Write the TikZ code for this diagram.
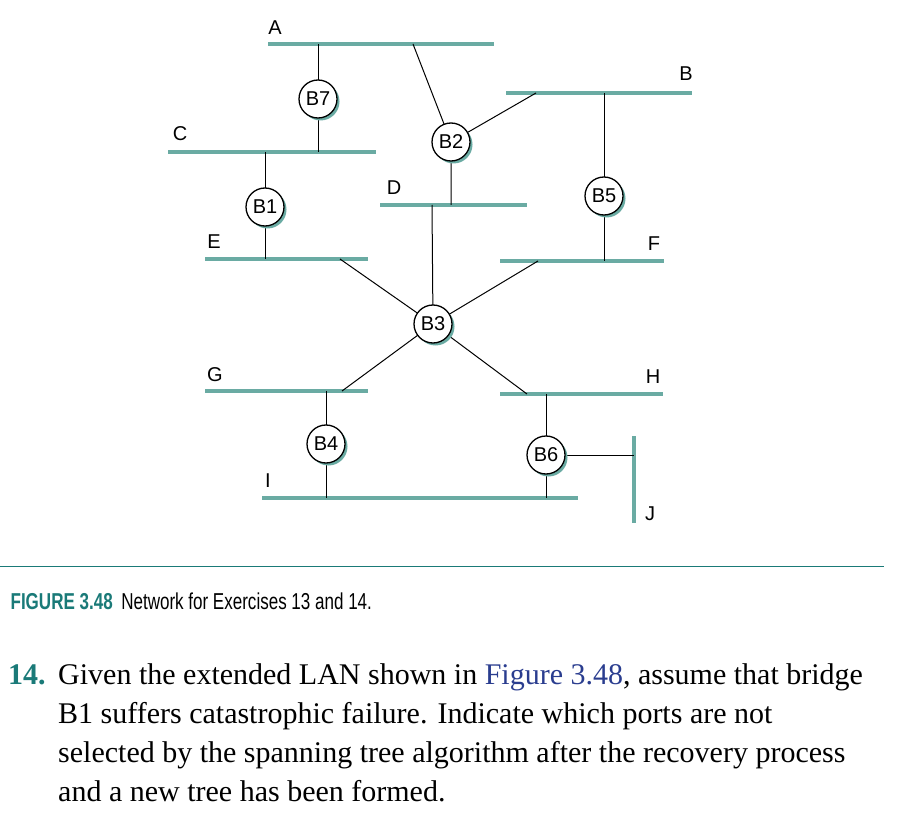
\documentclass[tikz,border=0pt]{standalone}
\usepackage{fontspec}
\setmainfont{Liberation Serif}
\newfontfamily\diagfont{Liberation Sans}
\usetikzlibrary{shadows}
\definecolor{lanteal}{HTML}{6AABA3}
\definecolor{headteal}{HTML}{1A7A78}
\definecolor{refblue}{HTML}{2A3D8F}
\tikzset{
  lan/.style={line width=4pt, lanteal},
  bridge/.style={circle, draw, line width=1.3pt, fill=white, minimum size=38pt, inner sep=0pt,
    font=\diagfont\fontsize{20}{20}\selectfont,
    drop shadow={fill=lanteal, shadow xshift=2.5pt, shadow yshift=-2.5pt, opacity=1}},
  lbl/.style={font=\diagfont\fontsize{20}{20}\selectfont},
  link/.style={line width=1pt, black}
}
\begin{document}
\begin{tikzpicture}[x=1pt, y=-1pt]
  \useasboundingbox (0,0) rectangle (910,818);

  % LAN segments
  \draw[lan] (268,44)--(494,44);   % A
  \draw[lan] (506,93)--(692,93);   % B
  \draw[lan] (168,152)--(376,152); % C
  \draw[lan] (380,205)--(527,205); % D
  \draw[lan] (205,259)--(368,259); % E
  \draw[lan] (500,261)--(664,261); % F
  \draw[lan] (205,391)--(368,391); % G
  \draw[lan] (500,394)--(663,394); % H
  \draw[lan] (262,498)--(578,498); % I
  \draw[lan] (634,436)--(634,523); % J

  % Attachment points on the LANs
  \coordinate (a7) at (318,44);  \coordinate (a2) at (413,44);
  \coordinate (b2) at (536,93);  \coordinate (b5) at (604,93);
  \coordinate (c7) at (318,152); \coordinate (c1) at (265,152);
  \coordinate (d2) at (451,205); \coordinate (d3) at (432,205);
  \coordinate (e1) at (265,259); \coordinate (e3) at (340,259);
  \coordinate (f5) at (604,261); \coordinate (f3) at (538,261);
  \coordinate (g3) at (342,391); \coordinate (g4) at (326,391);
  \coordinate (h3) at (527,394); \coordinate (h6) at (546,394);
  \coordinate (i4) at (326,498); \coordinate (i6) at (546,498);
  \coordinate (j6) at (634,455);

  % Links
  \draw[link] (318,99)--(a7) (318,99)--(c7);
  \draw[link] (451,142)--(a2) (451,142)--(b2) (451,142)--(d2);
  \draw[link] (265,207)--(c1) (265,207)--(e1);
  \draw[link] (604,196)--(b5) (604,196)--(f5);
  \draw[link] (433,324)--(d3) (433,324)--(e3) (433,324)--(f3) (433,324)--(g3) (433,324)--(h3);
  \draw[link] (326,444)--(g4) (326,444)--(i4);
  \draw[link] (546,455)--(h6) (546,455)--(i6) (546,455)--(j6);

  % Bridges
  \node[bridge] (B7) at (318,99) {B7};
  \node[bridge] (B2) at (451,142) {B2};
  \node[bridge] (B1) at (265,207) {B1};
  \node[bridge] (B5) at (604,196) {B5};
  \node[bridge] (B3) at (433,324) {B3};
  \node[bridge] (B4) at (326,444) {B4};
  \node[bridge] (B6) at (546,455) {B6};

  % LAN labels
  \node[lbl] (lA) at (275,28) {A};
  \node[lbl] (lB) at (686,74) {B};
  \node[lbl] (lC) at (180,134) {C};
  \node[lbl] (lD) at (394,188) {D};
  \node[lbl] (lE) at (214,242) {E};
  \node[lbl] (lF) at (654,244) {F};
  \node[lbl] (lG) at (215,375) {G};
  \node[lbl] (lH) at (653,377) {H};
  \node[lbl] (lI) at (268,481) {I};
  \node[lbl] (lJ) at (650,514) {J};

  % Caption
  \draw[headteal, line width=1pt] (0,566)--(884,566);
  \node[anchor=west, xscale=0.74, transform shape, font=\diagfont\fontsize{23}{23}\selectfont] (cap) at (8,601)
    {\textcolor{headteal}{\textbf{FIGURE 3.48}}\hspace{0.5em}Network for Exercises 13 and 14.};

  % Exercise text
  \tikzset{ex/.style={anchor=base west, font=\fontsize{30}{30}\selectfont, inner sep=0pt}}
  \node[ex, text=headteal] (num) at (8,684) {\textbf{14.}};
  \node[ex] (l1) at (58,684) {Given the extended LAN shown in \textcolor{refblue}{Figure 3.48}, assume that bridge};
  \node[ex] (l2) at (58,723) {B1 suffers catastrophic failure. Indicate which ports are not};
  \node[ex] (l3) at (58,762) {selected by the spanning tree algorithm after the recovery process};
  \node[ex] (l4) at (58,801) {and a new tree has been formed.};
\end{tikzpicture}
\end{document}
